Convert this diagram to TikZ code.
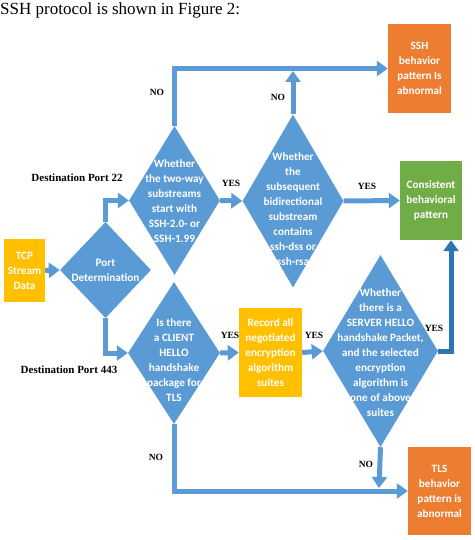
\documentclass[tikz,border=0pt]{standalone}
\usepackage{fontspec}
\setmainfont{Liberation Serif}
\newfontfamily\calfont{Carlito}
\usetikzlibrary{shapes.geometric,arrows.meta}
\definecolor{blu}{HTML}{5B9BD5}
\definecolor{dblu}{HTML}{2E75B6}
\definecolor{orng}{HTML}{ED7D31}
\definecolor{grn}{HTML}{70AD47}
\definecolor{yel}{HTML}{FFC000}
\begin{document}
\begin{tikzpicture}[x=1pt,y=-1pt,
  dia/.style={diamond, fill=blu, draw=none, inner sep=0pt},
  box/.style={rectangle, fill=#1, draw=none, inner sep=0pt, text=white,
    font=\calfont\bfseries\fontsize{11.2}{15}\selectfont, align=center},
  txt/.style={text=white, font=\calfont\bfseries\fontsize{11.2}{15}\selectfont, align=center, inner sep=0pt},
  lab/.style={font=\bfseries\fontsize{9.5}{11}\selectfont, inner sep=0pt},
  dlab/.style={font=\bfseries\fontsize{11}{13}\selectfont, inner sep=0pt},
  ln/.style={draw=#1, line width=5pt},
  ln/.default=blu,
  arr/.style={ln=#1, -{Triangle[width=15pt,length=11pt]}},
  arr/.default=blu]
\useasboundingbox (0,0) rectangle (474,540);
\node[anchor=base west, inner sep=0pt, font=\fontsize{17}{20}\selectfont] (title) at (0,14.5) {SSH protocol is shown in Figure 2:};

% boxes
\node[box=yel, minimum width=41pt, minimum height=63pt] (tcp) at (24.5,270.5) {TCP\\Stream\\Data};
\node[box=yel, minimum width=63pt, minimum height=89pt] (rec) at (270.5,352.5) {Record all\\negotiated\\encryption\\algorithm\\suites};
\node[box=orng, minimum width=63pt, minimum height=89pt] (ssh) at (419.5,68.5) {SSH\\behavior\\pattern Is\\abnormal};
\node[box=grn, minimum width=62pt, minimum height=79pt] (ok) at (431,200.5) {Consistent\\behavioral\\pattern};
\node[box=orng, minimum width=63pt, minimum height=88pt] (tls) at (439.5,491) {TLS\\behavior\\pattern is\\abnormal};

% diamonds
\node[dia, minimum width=91pt, minimum height=96pt] (pd) at (105.5,270) {};
\node[dia, minimum width=91pt, minimum height=149pt] (d1) at (174.5,200.5) {};
\node[dia, minimum width=101pt, minimum height=173pt] (d2) at (293,201) {};
\node[dia, minimum width=92pt, minimum height=142pt] (d3) at (174,353) {};
\node[dia, minimum width=115pt, minimum height=192pt] (d4) at (380.5,351) {};

\node[txt] (pdt) at (105.5,270) {Port\\Determination};
\node[txt] (d1t) at (174.5,201.5) {Whether\\the two-way\\substreams\\start with\\SSH-2.0- or\\SSH-1.99};
\node[txt] (d2t) at (293,209) {Whether\\the\\subsequent\\bidirectional\\substream\\contains\\ssh-dss or\\ssh-rsa};
\node[txt] (d3t) at (174,360.5) {Is there\\a CLIENT\\HELLO\\handshake\\package for\\TLS};
\node[txt] (d4t) at (380.5,353) {Whether\\there is a\\SERVER HELLO\\handshake Packet,\\and the selected\\encryption\\algorithm is\\one of above\\suites};

% connectors
\draw[arr] (tcp.east) -- (pd.west);
\draw[arr] (pd.north) |- (d1.west);
\draw[arr] (pd.south) |- (d3.west);
\draw[arr] (d1.east) -- (d2.west);
\draw[arr] (d1.north) |- (ssh.west);
\coordinate (up2) at (293,71);
\draw[arr] (d2.north) -- (up2);
\draw[arr] (d2.east) -- (ok.west);
\draw[arr] (d3.east) -- (rec.west);
\draw[arr] (rec.east) -- (d4.west);
\draw[arr=dblu] (d4.east) -| ([xshift=20pt]ok.south);
\draw[arr] (d3.south) |- (tls.west);
\coordinate (dn4) at (379,488);
\draw[arr] (d4.south) -- (dn4);

% labels
\node[lab] (no1) at (157,92) {NO};
\node[lab] (no2) at (278,97) {NO};
\node[lab] (yes1) at (231,183) {YES};
\node[lab] (yes2) at (367,186) {YES};
\node[lab] (yes3) at (230,335) {YES};
\node[lab] (yes4) at (314,335) {YES};
\node[lab] (yes5) at (434,328) {YES};
\node[lab] (no3) at (156,457) {NO};
\node[lab] (no4) at (366,464) {NO};
\node[dlab] (p22) at (77,178) {Destination Port 22};
\node[dlab] (p443) at (69,370) {Destination Port 443};
\end{tikzpicture}
\end{document}
